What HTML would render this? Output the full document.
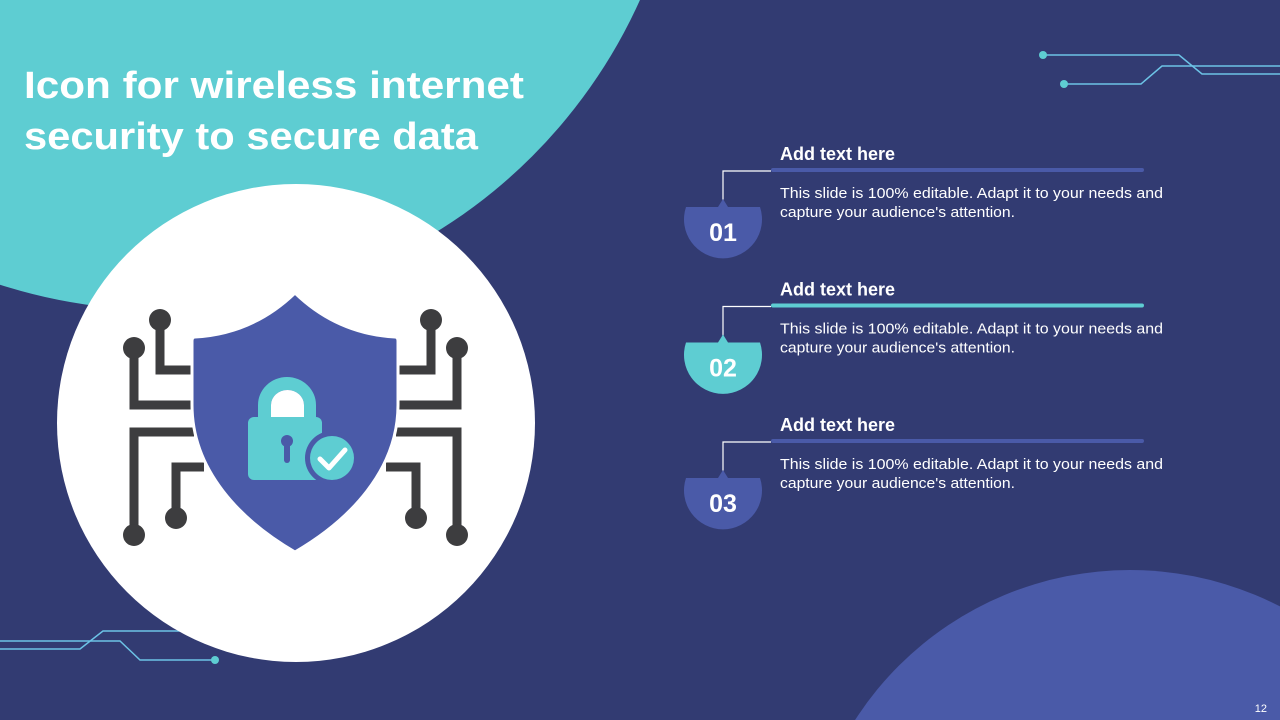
<!DOCTYPE html>
<html><head><meta charset="utf-8"><style>
html,body{margin:0;padding:0;width:1280px;height:720px;overflow:hidden;}
body{background:#323b72;}
svg{display:block;overflow:hidden;}
</style></head><body>
<svg width="1280" height="720" viewBox="0 0 1280 720" xmlns="http://www.w3.org/2000/svg" font-family="Liberation Sans, Arial, sans-serif">
<rect width="1280" height="720" fill="#323b72"/>
<circle cx="161" cy="-215" r="525" fill="#5ecdd2"/>
<circle cx="1130" cy="897" r="327" fill="#4a5aa8"/>
<g fill="none" stroke="#6cc3e6" stroke-width="1.5">
<polyline points="1043,55 1179,55 1202,74 1280,74"/>
<polyline points="1064,84 1141,84 1162,66 1280,66"/>
<polyline points="0,641 120,641 140,660 215,660"/>
<polyline points="0,649 80,649 103,631 200,631"/>
</g>
<g fill="#5ecdd2"><circle cx="1043" cy="55" r="4"/><circle cx="1064" cy="84" r="4"/><circle cx="215" cy="660" r="4"/></g>
<circle cx="296" cy="423" r="239" fill="#ffffff"/>
<g fill="none" stroke="#3d3d3f" stroke-width="9" stroke-linejoin="miter">
<polyline points="160,320 160,370 192,370"/>
<polyline points="134,348 134,405 192,405"/>
<polyline points="194,432 134,432 134,535"/>
<polyline points="204,467 176,467 176,518"/>
<polyline points="431,320 431,370 398,370"/>
<polyline points="457,348 457,405 398,405"/>
<polyline points="396,432 457,432 457,535"/>
<polyline points="386,467 416,467 416,518"/>
</g>
<g fill="#3d3d3f">
<circle cx="160" cy="320" r="11"/><circle cx="134" cy="348" r="11"/><circle cx="134" cy="535" r="11"/><circle cx="176" cy="518" r="11"/>
<circle cx="431" cy="320" r="11"/><circle cx="457" cy="348" r="11"/><circle cx="457" cy="535" r="11"/><circle cx="416" cy="518" r="11"/>
</g>
<path d="M295,293 C265,322 230,335 195,337 Q192,337 192,341 L192,405 C192,470 240,520 295,552 C350,520 398,470 398,405 L398,341 Q398,337 395,337 C360,335 325,322 295,293 Z" fill="#4a5aa8" stroke="#ffffff" stroke-width="3"/>
<path d="M258,418 L258,405 A29,28 0 0 1 316,405 L316,418 L304,418 L304,405 A16.5,15 0 0 0 271,405 L271,418 Z" fill="#5ecdd2"/>
<path d="M271,418 L271,405 A16.5,15 0 0 1 304,405 L304,418 Z" fill="#ffffff"/>
<rect x="248" y="417" width="74" height="63" rx="6" fill="#5ecdd2"/>
<circle cx="287" cy="441" r="6" fill="#4a5aa8"/>
<rect x="284" y="441" width="6" height="22" rx="3" fill="#4a5aa8"/>
<circle cx="332" cy="458" r="27" fill="#4a5aa8"/>
<circle cx="332" cy="458" r="22" fill="#5ecdd2"/>
<polyline points="320,459 329,468 345,450" fill="none" stroke="#ffffff" stroke-width="5" stroke-linecap="round" stroke-linejoin="round"/>
<g fill="#ffffff" font-weight="bold" font-size="38">
<text x="24" y="98" textLength="500" lengthAdjust="spacingAndGlyphs">Icon for wireless internet</text>
<text x="24" y="149" textLength="454" lengthAdjust="spacingAndGlyphs">security to secure data</text>
</g>
<g>
<polyline points="723,202 723,171 771,171" fill="none" stroke="#ffffff" stroke-width="1.2"/>
<path d="M686,207 L718,207 L723,199 L728,207 L760,207 A39,39 0 1 1 686,207 Z" fill="#4a5aa8"/>
<text x="723" y="241" text-anchor="middle" fill="#fff" font-weight="bold" font-size="25">01</text>
<rect x="771" y="168" width="373" height="4" rx="2" fill="#4a5aa8"/>
<text x="780" y="160" fill="#fff" font-weight="bold" font-size="18">Add text here</text>
<text x="780" y="198" fill="#fff" font-size="15" textLength="383" lengthAdjust="spacingAndGlyphs">This slide is 100% editable. Adapt it to your needs and</text>
<text x="780" y="217" fill="#fff" font-size="15" textLength="235" lengthAdjust="spacingAndGlyphs">capture your audience's attention.</text>
</g>
<g transform="translate(0,135.5)">
<polyline points="723,202 723,171 771,171" fill="none" stroke="#ffffff" stroke-width="1.2"/>
<path d="M686,207 L718,207 L723,199 L728,207 L760,207 A39,39 0 1 1 686,207 Z" fill="#5ecdd2"/>
<text x="723" y="241" text-anchor="middle" fill="#fff" font-weight="bold" font-size="25">02</text>
<rect x="771" y="168" width="373" height="4" rx="2" fill="#5ecdd2"/>
<text x="780" y="160" fill="#fff" font-weight="bold" font-size="18">Add text here</text>
<text x="780" y="198" fill="#fff" font-size="15" textLength="383" lengthAdjust="spacingAndGlyphs">This slide is 100% editable. Adapt it to your needs and</text>
<text x="780" y="217" fill="#fff" font-size="15" textLength="235" lengthAdjust="spacingAndGlyphs">capture your audience's attention.</text>
</g>
<g transform="translate(0,271)">
<polyline points="723,202 723,171 771,171" fill="none" stroke="#ffffff" stroke-width="1.2"/>
<path d="M686,207 L718,207 L723,199 L728,207 L760,207 A39,39 0 1 1 686,207 Z" fill="#4a5aa8"/>
<text x="723" y="241" text-anchor="middle" fill="#fff" font-weight="bold" font-size="25">03</text>
<rect x="771" y="168" width="373" height="4" rx="2" fill="#4a5aa8"/>
<text x="780" y="160" fill="#fff" font-weight="bold" font-size="18">Add text here</text>
<text x="780" y="198" fill="#fff" font-size="15" textLength="383" lengthAdjust="spacingAndGlyphs">This slide is 100% editable. Adapt it to your needs and</text>
<text x="780" y="217" fill="#fff" font-size="15" textLength="235" lengthAdjust="spacingAndGlyphs">capture your audience's attention.</text>
</g>
<text x="1267" y="712" text-anchor="end" fill="#fff" font-size="11">12</text>
</svg>
</body></html>
